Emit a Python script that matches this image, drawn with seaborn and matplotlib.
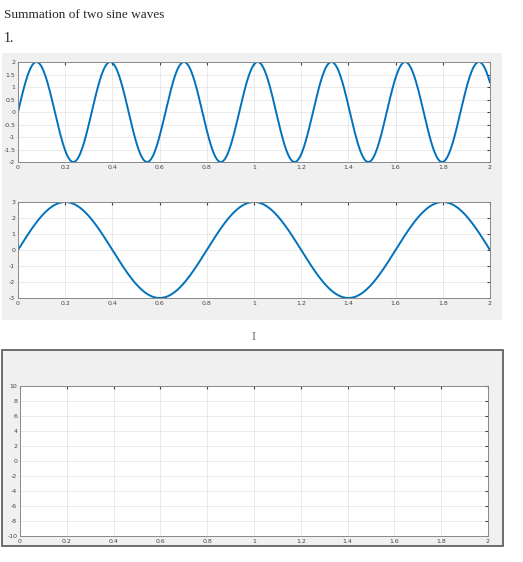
import matplotlib
matplotlib.use("Agg")
import numpy as np
import matplotlib.pyplot as plt
import seaborn as sns
from matplotlib.patches import Rectangle

sns.set_style("whitegrid")
plt.rcParams['font.family'] = ['DejaVu Sans']

# wave parameters
amp1, freq1 = 2.0, 3.2
amp2, freq2 = 3.0, 1.25
t = np.linspace(0, 2, 800)
y1 = amp1 * np.sin(2 * np.pi * freq1 * t)
y2 = amp2 * np.sin(2 * np.pi * freq2 * t)

xticks = [0, 0.2, 0.4, 0.6, 0.8, 1, 1.2, 1.4, 1.6, 1.8, 2]
xlabels = ["0", "0.2", "0.4", "0.6", "0.8", "1", "1.2", "1.4", "1.6", "1.8", "2"]
yt1 = [-2, -1.5, -1, -0.5, 0, 0.5, 1, 1.5, 2]
yt2 = [-3, -2, -1, 0, 1, 2, 3]
yt3 = [-10, -8, -6, -4, -2, 0, 2, 4, 6, 8, 10]

W, H = 523, 562
fig = plt.figure(figsize=(W / 100, H / 100), dpi=100)

def box(x0, y0, x1, y1):
    return [x0 / W, 1 - y1 / H, (x1 - x0) / W, (y1 - y0) / H]

# gray panel backgrounds, drawn below the axes
fig.patches.append(Rectangle((2 / W, 1 - 320 / H), 500 / W, 267 / H, transform=fig.transFigure,
                             facecolor="#f0f0f0", edgecolor="none", zorder=-10))
fig.patches.append(Rectangle((2 / W, 1 - 546 / H), 501 / W, 196 / H, transform=fig.transFigure,
                             facecolor="#f0f0f0", edgecolor="#555555", linewidth=1.2, zorder=-10))

fig.text(4 / W, 1 - 15 / H, "Summation of two sine waves", family="Liberation Serif", fontsize=9.5, va="center")
fig.text(4 / W, 1 - 38 / H, "1.", family="Liberation Serif", fontsize=10, va="center")
fig.text(252 / W, 1 - 337 / H, "I", family="Liberation Serif", fontsize=9, color="#666666", va="center")

def style(ax, yt, ylim):
    ax.set_xlim(0, 2)
    ax.set_ylim(*ylim)
    ax.set_xticks(xticks)
    ax.set_xticklabels(xlabels)
    ax.set_yticks(yt)
    ax.set_yticklabels([("%g" % v) for v in yt])
    ax.tick_params(labelsize=4.5, colors="#444444", length=2, direction="in", pad=2,
                   top=True, right=True)
    ax.grid(True, color="#e6e6e6", linewidth=0.6)
    for s in ax.spines.values():
        s.set_color("#888888")
        s.set_linewidth(0.7)

ax1 = fig.add_axes(box(18, 62, 490, 162))
sns.lineplot(x=t, y=y1, ax=ax1, color="#0072bd", linewidth=1.4)
style(ax1, yt1, (-2, 2))

ax2 = fig.add_axes(box(18, 202, 490, 298))
sns.lineplot(x=t, y=y2, ax=ax2, color="#0072bd", linewidth=1.4)
style(ax2, yt2, (-3, 3))

ax3 = fig.add_axes(box(20, 386, 488, 536))
style(ax3, yt3, (-10, 10))

for ax in (ax1, ax2, ax3):
    ax.set_zorder(5)

fig.savefig("out.png", dpi=100)
